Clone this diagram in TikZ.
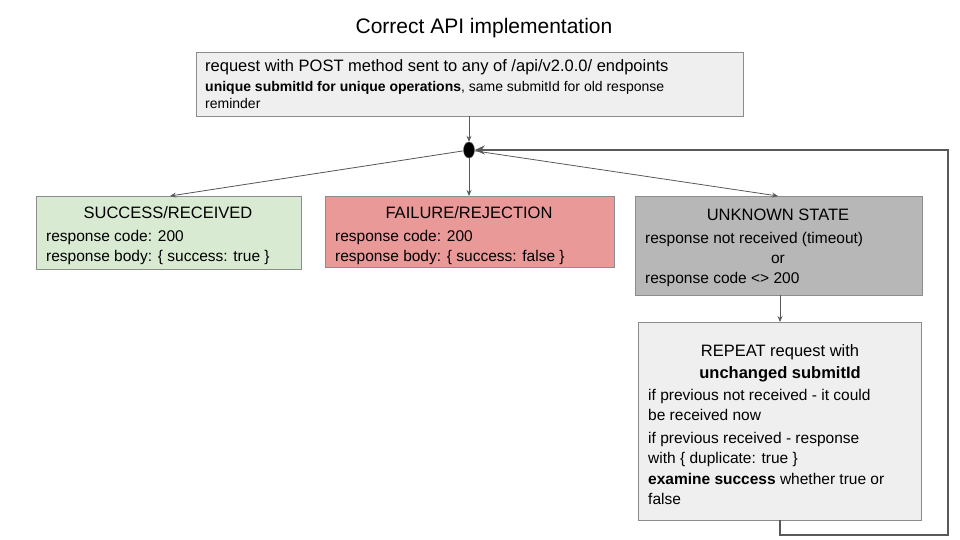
\documentclass[tikz,border=0pt]{standalone}
\usepackage{fontspec}
\setmainfont{Liberation Sans}
\usetikzlibrary{arrows.meta,shapes.geometric}
\begin{document}
\begin{tikzpicture}[x=1pt,y=-1pt,
  box/.style={draw=black!45,line width=0.8pt,inner sep=0pt},
  txt/.style={anchor=base west,inner sep=0pt,font=\fontsize{15.5}{18}\selectfont},
  ctxt/.style={anchor=base,inner sep=0pt,font=\fontsize{15.5}{18}\selectfont},
  arr/.style={draw=black!65,line width=0.8pt,-{Stealth[length=6pt,width=5pt]}}]
\definecolor{lg}{HTML}{EFEFEF}\definecolor{gr}{HTML}{D9EAD3}
\definecolor{rd}{HTML}{EA9999}\definecolor{gy}{HTML}{B7B7B7}
\useasboundingbox (0,0) rectangle (960,540);
\node[anchor=base,inner sep=0pt,font=\fontsize{21}{24}\selectfont] (title) at (484,34) {Correct API implementation};
\draw[box,fill=lg] (196,52) rectangle (743,116);
\coordinate (topb) at (469,116);
\node[txt,font=\fontsize{16.5}{18}\selectfont] (t1) at (205,72) {request with POST method sent to any of /api/v2.0.0/ endpoints};
\node[txt,font=\fontsize{14}{16}\selectfont] (t2) at (205,92) {\textbf{unique submitId for unique operations}, same submitId for old response};
\node[txt,font=\fontsize{14}{16}\selectfont] (t3) at (205,109) {reminder};
\node[ellipse,fill=black,draw=black!60,minimum width=11pt,minimum height=16pt,inner sep=0pt] (dot) at (469,150) {};
\draw[arr] (topb) -- (dot.north);
% boxes
\draw[box,fill=gr] (36,196) rectangle (301,269); \coordinate (g) at (170,196);
\node[ctxt,font=\fontsize{16.5}{18}\selectfont] at (168,218) {SUCCESS/RECEIVED};
\node[txt] at (46,241) {response code: 200};
\node[txt] at (46,261) {response body: \{ success: true \}};
\draw[box,fill=rd] (325,196) rectangle (614,267); \coordinate (r) at (469,196);
\node[ctxt,font=\fontsize{16.5}{18}\selectfont] at (469,218) {FAILURE/REJECTION};
\node[txt] at (335,241) {response code: 200};
\node[txt] at (335,261) {response body: \{ success: false \}};
\draw[box,fill=gy] (635,196) rectangle (922,295); \coordinate (u) at (778,196); \coordinate (ub) at (780,295);
\node[ctxt,font=\fontsize{16.5}{18}\selectfont] at (778,220) {UNKNOWN STATE};
\node[txt] at (645,243) {response not received (timeout)};
\node[ctxt] at (778,263) {or};
\node[txt] at (645,283) {response code <> 200};
\draw[box,fill=lg] (638,322) rectangle (921,520); \coordinate (rp) at (780,322); \coordinate (rpb) at (780,520);
\node[ctxt,font=\fontsize{16.5}{18}\selectfont] at (780,356) {REPEAT request with};
\node[ctxt,font=\fontsize{16.5}{18}\selectfont] at (780,378) {\textbf{unchanged submitId}};
\node[txt] at (648,400) {if previous not received - it could};
\node[txt] at (648,420) {be received now};
\node[txt] at (648,443) {if previous received - response};
\node[txt] at (648,463) {with \{ duplicate: true \}};
\node[txt] at (648,484) {\textbf{examine success} whether true or};
\node[txt] at (648,504) {false};
\draw[arr] (dot) -- (g);
\draw[arr] (dot.south) -- (r);
\draw[arr] (dot) -- (u);
\draw[arr] (ub) -- (rp);
\draw[draw=black!65,line width=2pt,-{Stealth[length=10pt,width=9pt]}] (rpb) -- (780,535) -- (948,535) -- (948,150) -- (dot.east);
\end{tikzpicture}
\end{document}
